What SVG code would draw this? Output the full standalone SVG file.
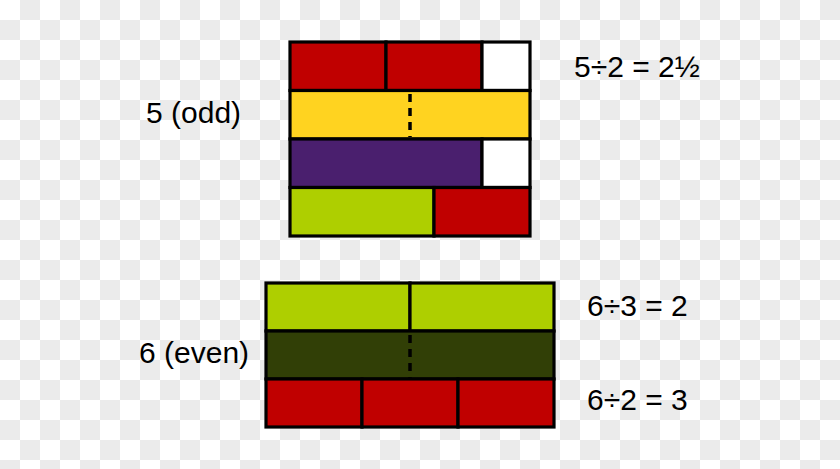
<svg xmlns="http://www.w3.org/2000/svg" width="840" height="469" viewBox="0 0 840 469">
<defs>
<pattern id="checker" width="40" height="40" patternUnits="userSpaceOnUse">
<rect width="40" height="40" fill="#ffffff"/>
<rect x="20" y="0" width="20" height="20" fill="#ebebeb"/>
<rect x="0" y="20" width="20" height="20" fill="#ebebeb"/>
</pattern>
</defs>
<style>
.b{stroke:#000;stroke-width:3.2}
.red{fill:#C00000}.wht{fill:#FFFFFF}.yel{fill:#FFD320}.pur{fill:#4A1F6E}.lim{fill:#AECF00}.dk{fill:#313F06}
.dash{stroke:#000;stroke-width:3.5;stroke-dasharray:8 6;fill:none}
.t{font-family:"Liberation Sans",Arial,sans-serif;font-size:30px;fill:#000}
</style>
<rect width="840" height="469" fill="url(#checker)"/>
<g id="odd-block">
<rect class="b red" x="290" y="42" width="96" height="48.5"/>
<rect class="b red" x="386" y="42" width="96" height="48.5"/>
<rect class="b wht" x="482" y="42" width="48" height="48.5"/>
<rect class="b yel" x="290" y="90.5" width="240" height="48.5"/>
<rect class="b pur" x="290" y="139" width="192" height="48.5"/>
<rect class="b wht" x="482" y="139" width="48" height="48.5"/>
<rect class="b lim" x="290" y="187.5" width="144" height="48.5"/>
<rect class="b red" x="434" y="187.5" width="96" height="48.5"/>
</g>
<g id="even-block">
<rect class="b lim" x="266" y="283" width="144" height="48"/>
<rect class="b lim" x="410" y="283" width="144" height="48"/>
<rect class="b dk" x="266" y="331" width="288" height="48"/>
<rect class="b red" x="266" y="379" width="96" height="48"/>
<rect class="b red" x="362" y="379" width="96" height="48"/>
<rect class="b red" x="458" y="379" width="96" height="48"/>
</g>
<g id="connectors">
<line class="dash" x1="410" y1="94" x2="410" y2="137"/>
<line class="dash" x1="410" y1="335" x2="410" y2="378"/>
</g>
<g id="labels">
<text class="t" x="146" y="123">5 (odd)</text>
<text class="t" x="574" y="77">5÷2 = 2½</text>
<text class="t" x="139" y="363">6 (even)</text>
<text class="t" x="587" y="316">6÷3 = 2</text>
<text class="t" x="587" y="410">6÷2 = 3</text>
</g>
</svg>
